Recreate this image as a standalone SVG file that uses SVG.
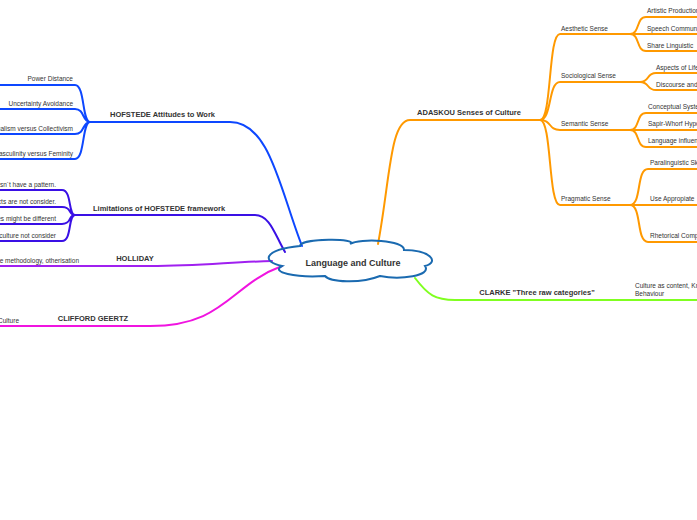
<svg xmlns="http://www.w3.org/2000/svg" width="697" height="520" viewBox="0 0 697 520">
<style>
text{font-family:"Liberation Sans",Arial,sans-serif;fill:#333}
.b{font-size:7.5px;font-weight:bold}
.s{font-size:6.5px}
.r{text-anchor:end}
.c{text-anchor:middle}
path{fill:none;stroke-width:2;stroke-linecap:round}
</style>
<rect width="697" height="520" fill="#fff"/>
<g id="connectors">
<path stroke="#0d47ff" d="M302,246 C280,190 270,122 230,122 L90,122"/>
<path stroke="#0d47ff" d="M90,122 C82,122 85,85 75,85 L0,85 M90,122 C82,122 85,109 75,109 L0,109 M90,122 C82,122 85,134 75,134 L0,134 M90,122 C82,122 85,159 75,159 L0,159"/>
<path stroke="#3a10e5" d="M285,252 C275,235 270,215 255,215 L75,215"/>
<path stroke="#3a10e5" d="M75,215 C68,215 72,190 62,190 L0,190 M75,215 C68,215 72,207 62,207 L0,207 M75,215 C68,215 72,224 62,224 L0,224 M75,215 C68,215 72,241 62,241 L0,241"/>
<path stroke="#a020f0" d="M272,261 C230,262 200,266 150,266 L0,266"/>
<path stroke="#f014e0" d="M282,266 C230,285 225,326 150,326 L0,326"/>
<path stroke="#ff9900" d="M378,244 C390,180 390,120 410,120 L540,120"/>
<path stroke="#ff9900" d="M540,120 C552,120 548,34 560,34 L630,34 M540,120 C552,120 548,82 560,82 L640,82 M540,120 C552,120 548,130 560,130 L630,130 M540,120 C552,120 548,205 560,205 L630,205"/>
<path stroke="#ff9900" d="M630,34 C640,34 636,17 646,17 L697,17 M630,34 L697,34 M630,34 C640,34 636,51 646,51 L697,51"/>
<path stroke="#ff9900" d="M640,82 C650,82 646,73 656,73 L697,73 M640,82 C650,82 646,90 656,90 L697,90"/>
<path stroke="#ff9900" d="M630,130 C640,130 636,113 646,113 L697,113 M630,130 L697,130 M630,130 C640,130 636,147 646,147 L697,147"/>
<path stroke="#ff9900" d="M630,205 C642,205 636,169 648,169 L697,169 M630,205 L697,205 M630,205 C642,205 636,242 648,242 L697,242"/>
<path stroke="#80ff20" d="M415,278 C428,295 435,300 455,300 L697,300"/>
</g>
<g id="center">
<path d="M300,246 C300,238 360,238 350,244 C360,238 405,240 404,250 C430,250 440,262 425,266 C432,276 400,280 380,276 C360,284 330,282 325,276 C295,278 270,272 282,266 C262,262 262,250 300,246 Z" fill="#fff" stroke="#1a6ab0" stroke-width="1.5"/>
<text class="b c" x="353" y="266" style="font-size:9px">Language and Culture</text>
</g>
<g id="hofstede"><text class="b" x="110" y="117">HOFSTEDE Attitudes to Work</text></g>
<g id="h1"><text class="s r" x="73" y="81">Power Distance</text></g>
<g id="h2"><text class="s r" x="73" y="106">Uncertainty Avoidance</text></g>
<g id="h3"><text class="s r" x="73" y="131">Individualism versus Collectivism</text></g>
<g id="h4"><text class="s r" x="73" y="156">Masculinity versus Feminity</text></g>
<g id="limits"><text class="b" x="93" y="211">Limitations of HOFSTEDE framework</text></g>
<g id="l1"><text class="s r" x="56" y="187">Culture doesn´t have a pattern.</text></g>
<g id="l2"><text class="s r" x="56" y="204">Other aspects are not consider.</text></g>
<g id="l3"><text class="s r" x="56" y="221">Cultures might be different</text></g>
<g id="l4"><text class="s r" x="56" y="238">Small culture not consider</text></g>
<g id="holliday"><text class="b c" x="135" y="261">HOLLIDAY</text></g>
<g id="ho1"><text class="s r" x="79" y="263">Small culture methodology, otherisation</text></g>
<g id="geertz"><text class="b c" x="93" y="321">CLIFFORD GEERTZ</text></g>
<g id="g1"><text class="s r" x="19" y="323">Thick Description of Culture</text></g>
<g id="adaskou"><text class="b c" x="469" y="115">ADASKOU Senses of Culture</text></g>
<g id="a1"><text class="s" x="561" y="31">Aesthetic Sense</text></g>
<g id="a2"><text class="s" x="561" y="78">Sociological Sense</text></g>
<g id="a3"><text class="s" x="561" y="126">Semantic Sense</text></g>
<g id="a4"><text class="s" x="561" y="201">Pragmatic Sense</text></g>
<g id="a11"><text class="s" x="647" y="13">Artistic Production</text></g>
<g id="a12"><text class="s" x="647" y="31">Speech Community</text></g>
<g id="a13"><text class="s" x="647" y="48">Share Linguistic</text></g>
<g id="a21"><text class="s" x="656" y="70">Aspects of Life</text></g>
<g id="a22"><text class="s" x="656" y="87">Discourse and</text></g>
<g id="a31"><text class="s" x="648" y="109">Conceptual System</text></g>
<g id="a32"><text class="s" x="648" y="126">Sapir-Whorf Hypothesis</text></g>
<g id="a33"><text class="s" x="648" y="143">Language influence</text></g>
<g id="a41"><text class="s" x="650" y="165">Paralinguistic Skills</text></g>
<g id="a42"><text class="s" x="650" y="201">Use Appropiate</text></g>
<g id="a43"><text class="s" x="650" y="238">Rhetorical Competence</text></g>
<g id="clarke"><text class="b c" x="537" y="295">CLARKE "Three raw categories"</text></g>
<g id="c1"><text class="s" x="635" y="288">Culture as content, Knowledge</text><text class="s" x="635" y="296">Behaviour</text></g>
</svg>
